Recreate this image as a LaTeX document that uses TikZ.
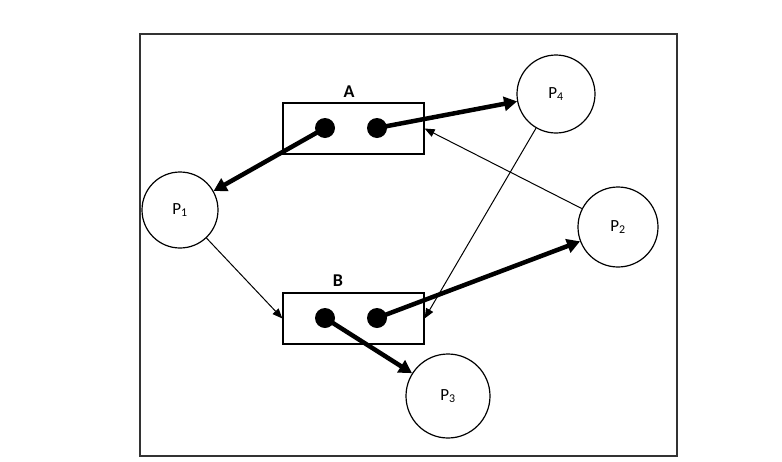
\documentclass[tikz,border=0pt]{standalone}
\usepackage{fontspec}
\setmainfont{Carlito}
\usetikzlibrary{arrows.meta}
\begin{document}
\begin{tikzpicture}[x=1pt,y=-1pt,
  proc/.style={circle,draw,line width=1.2pt,minimum size=#1,inner sep=0pt,font=\fontsize{17}{20}\selectfont},
  res/.style={draw,line width=1.2pt,minimum width=141pt,minimum height=51pt,inner sep=0pt},
  dot/.style={circle,fill=black,minimum size=20pt,inner sep=0pt},
  heavy/.style={line width=4.5pt,-{Triangle[length=13pt,width=14pt]}},
  light/.style={line width=1pt,-{Triangle[length=10pt,width=8pt]}},
  lab/.style={font=\fontsize{18}{20}\selectfont\bfseries}]
\useasboundingbox (0,0) rectangle (782,461);
\draw[line width=1.5pt,black!80] (140,34) rectangle (677,456);
\node[res] (A) at (353.5,128.5) {};
\node[lab] (la) at (349,92) {A};
\node[dot] (a1) at (325,128) {};
\node[dot] (a2) at (377,128) {};
\node[res] (B) at (353.5,318.5) {};
\node[lab] (lb) at (338,281) {B};
\node[dot] (b1) at (325,318) {};
\node[dot] (b2) at (377,318) {};
\node[proc=78pt] (P4) at (556,94) {P\textsubscript{4}};
\node[proc=76pt] (P1) at (180,210) {P\textsubscript{1}};
\node[proc=80pt] (P2) at (618,227) {P\textsubscript{2}};
\node[proc=84pt] (P3) at (448,396) {P\textsubscript{3}};
\draw[heavy] (a1.center) -- (P1);
\draw[heavy] (a2.center) -- (P4);
\draw[heavy] (b2.center) -- (P2);
\draw[heavy] (b1.center) -- (P3);
\draw[light] (P2) -- (A.east);
\draw[light] (P1) -- (B.west);
\draw[light] (P4) -- (B.east);
\end{tikzpicture}
\end{document}
